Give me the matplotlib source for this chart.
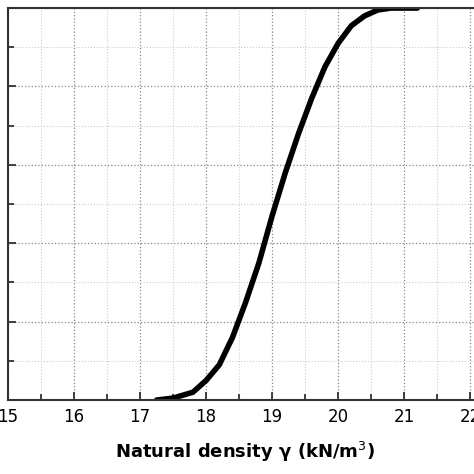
import numpy as np
import matplotlib.pyplot as plt
from matplotlib.ticker import MultipleLocator

# values (cumulative probability)
density = [17.25, 17.5, 17.8, 18.0, 18.2, 18.4, 18.6, 18.8, 19.0, 19.2,
           19.4, 19.6, 19.8, 20.0, 20.2, 20.4, 20.6, 20.8, 21.2]
cum_prob = [0.0, 0.005, 0.02, 0.05, 0.09, 0.16, 0.25, 0.35, 0.47, 0.58,
            0.68, 0.77, 0.85, 0.91, 0.955, 0.98, 0.995, 1.0, 1.0]

fig = plt.figure(figsize=(4.74, 4.74), dpi=100)
ax = fig.add_axes([0.017, 0.156, 1.0, 0.827])
ax.plot(density, cum_prob, color='black', lw=4, solid_capstyle='round')

ax.set_xlim(15, 22.18)
ax.set_ylim(0, 1.0)
ax.xaxis.set_major_locator(MultipleLocator(1))
ax.xaxis.set_minor_locator(MultipleLocator(0.5))
ax.yaxis.set_major_locator(MultipleLocator(0.2))
ax.yaxis.set_minor_locator(MultipleLocator(0.1))
ax.set_yticklabels([])
ax.grid(True, which='major', ls=':', color='#888888', lw=0.9)
ax.grid(True, which='minor', ls=':', color='#cccccc', lw=0.8)
for s in ax.spines.values():
    s.set_color('#333333')
    s.set_linewidth(1.5)
ax.tick_params(which='both', direction='in', color='#333333', width=1.3)
ax.tick_params(which='major', length=6)
ax.tick_params(which='minor', length=4)
ax.tick_params(axis='x', labelsize=12, pad=6)
ax.set_xlabel('Natural density γ (kN/m$^3$)', fontsize=13, fontweight='bold', labelpad=10)

fig.savefig('out.png', dpi=100)
